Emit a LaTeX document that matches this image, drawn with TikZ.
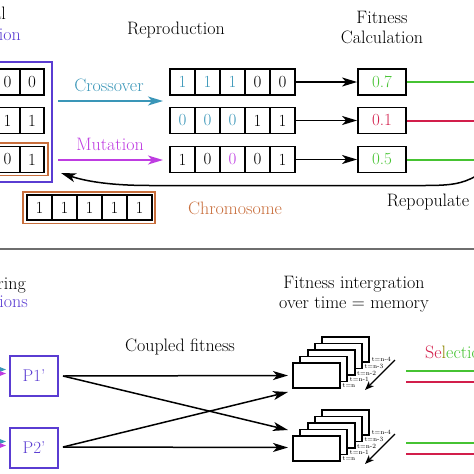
\documentclass[tikz,border=0pt]{standalone}
\usetikzlibrary{arrows.meta}
\definecolor{cteal}{RGB}{58,150,184}
\definecolor{cmag}{RGB}{190,60,225}
\definecolor{cpurp}{RGB}{90,60,210}
\definecolor{corange}{RGB}{200,110,60}
\definecolor{cgreen}{RGB}{70,195,50}
\definecolor{cred}{RGB}{210,30,75}
\definecolor{csep}{RGB}{110,110,110}
\begin{document}
\begin{tikzpicture}[x=1pt,y=-1pt,
  lab/.style={font=\fontsize{18}{20}\selectfont, inner sep=0pt, align=center},
  cell/.style={draw, line width=1.8pt, minimum width=25pt, minimum height=26pt, inner sep=0pt, font=\fontsize{17}{17}\selectfont},
  fitbox/.style={draw, line width=1.8pt, minimum width=48pt, minimum height=26pt, inner sep=0pt, font=\fontsize{17}{17}\selectfont},
  pbox/.style={draw=cpurp, text=cpurp, line width=1.6pt, minimum width=48pt, minimum height=40pt, inner sep=0pt, font=\fontsize{17}{17}\selectfont},
  stackbox/.style={draw, fill=white, line width=1.8pt, minimum width=47pt, minimum height=25pt, inner sep=0pt},
  tlab/.style={font=\fontsize{6.5}{7}\selectfont, inner sep=0pt, anchor=west},
  conn/.style={line width=1.5pt, -{Stealth[length=15pt,width=9pt,inset=4pt]}},
  thinconn/.style={line width=1.3pt, -{Stealth[length=9pt,width=7pt,inset=2.5pt]}}
]
\useasboundingbox (0,0) rectangle (474,474);
\clip (0,0) rectangle (474,474);

% ---------- titles ----------
\node[lab, anchor=east] (tinit) at (6,13) {Initial};
\node[lab, anchor=east, text=cpurp] (tpop) at (21,36) {Population};
\node[lab] (trep) at (176,30) {Reproduction};
\node[lab] (tfit) at (382,28) {Fitness\\Calculation};

% ---------- initial population ----------
\draw[draw=cpurp, line width=1.6pt] (-60,62) rectangle (52,182);
\foreach \r/\y/\da/\db in {1/82/0/0, 2/120.5/1/1, 3/159.5/0/1}{
  \node[cell, minimum width=24pt] (q\r a) at (-17,\y) {0};
  \node[cell, minimum width=24pt] (q\r b) at (7.5,\y) {\da};
  \node[cell, minimum width=24pt] (q\r c) at (32,\y) {\db};
}
\draw[draw=corange, line width=1.5pt] (-58,143) rectangle (48,175.5);

% ---------- reproduction rows ----------
\foreach \i/\d/\c in {1/1/cteal,2/1/cteal,3/1/cteal,4/0/black,5/0/black}
  \node[cell, text=\c] (a\i) at ({157.5+25*\i},82) {\d};
\foreach \i/\d/\c in {1/0/cteal,2/0/cteal,3/0/cteal,4/1/black,5/1/black}
  \node[cell, text=\c] (b\i) at ({157.5+25*\i},120.5) {\d};
\foreach \i/\d/\c in {1/1/black,2/0/black,3/0/cmag,4/0/black,5/1/black}
  \node[cell, text=\c] (c\i) at ({157.5+25*\i},159.5) {\d};

% ---------- fitness boxes ----------
\node[fitbox, text=cgreen] (f1) at (382,82) {0.7};
\node[fitbox, text=cred] (f2) at (382,120.5) {0.1};
\node[fitbox, text=cgreen] (f3) at (382,159.5) {0.5};
\draw[conn] (a5.east) -- (f1.west);
\draw[conn] (b5.east) -- (f2.west);
\draw[conn] (c5.east) -- (f3.west);
\coordinate (g1) at (474,82);
\coordinate (g2) at (474,120.5);
\coordinate (g3) at (474,159.5);
\draw[cgreen, line width=2pt] (f1.east) -- (g1);
\draw[cred, line width=2pt] (f2.east) -- (g2);
\draw[cgreen, line width=2pt] (f3.east) -- (g3);

% ---------- crossover / mutation ----------
\coordinate (cs) at (58,101);
\coordinate (ce) at (163,101);
\draw[cteal, conn] (cs) -- (ce);
\node[lab, text=cteal] (tcross) at (109,85) {Crossover};
\coordinate (ms) at (58,160);
\coordinate (me) at (163,160);
\draw[cmag, conn] (ms) -- (me);
\node[lab, text=cmag] (tmut) at (110,144) {Mutation};

% ---------- repopulate ----------
\coordinate (rs) at (476,176);
\coordinate (re) at (61,173);
\draw[conn] (rs) .. controls (462,184) and (450,185.5) .. (425,185.5)
  -- (150,185.5) .. controls (105,185.5) and (82,180) .. (re);
\node[lab] (trepop) at (428,202) {Repopulate};

% ---------- chromosome ----------
\draw[draw=corange, line width=1.5pt] (23,192) rectangle (155,223.5);
\foreach \i in {1,...,5}
  \node[cell, minimum height=25pt] (h\i) at ({14.5+25*\i},207.7) {1};
\node[lab, text=corange] (tchrom) at (235,208) {Chromosome};

% ---------- separator ----------
\coordinate (sl) at (0,249);
\coordinate (sr) at (474,249);
\draw[csep, line width=1.5pt] (sl) -- (sr);

% ---------- bottom section ----------
\node[lab, anchor=east] (toff) at (26,285) {Offspring};
\node[lab, anchor=east, text=cpurp] (tpops) at (28,303) {Populations};
\node[lab] (tcoup) at (180,347) {Coupled fitness};
\node[lab] (tint) at (354,294) {Fitness intergration\\over time = memory};
\node[lab, anchor=west] (tsel) at (425,352) {\textcolor{cred}{Se}\textcolor{olive}{l}\textcolor{cgreen}{ection}};

\node[pbox] (p1) at (34,376) {P1'};
\node[pbox] (p2) at (34,448) {P2'};

% small incoming arrows (cropped)
\coordinate (i1a) at (-30,369.5); \coordinate (i1b) at (6,369.5);
\coordinate (i2a) at (-30,373.5); \coordinate (i2b) at (6,373.5);
\coordinate (i3a) at (-30,441.5); \coordinate (i3b) at (6,441.5);
\coordinate (i4a) at (-30,445.5); \coordinate (i4b) at (6,445.5);
\draw[cteal, thinconn] (i1a) -- (i1b);
\draw[cmag, thinconn] (i2a) -- (i2b);
\draw[cteal, thinconn] (i3a) -- (i3b);
\draw[cmag, thinconn] (i4a) -- (i4b);

% stacks
\foreach \s/\y in {1/375.5, 2/448.5}{
  \foreach \k in {4,3,2,1,0}{
    \node[stackbox] (s\s k\k) at ({316.5+7.3*\k},{\y-6.5*\k}) {};
  }
  \node[tlab] (l\s a) at ([xshift=1.5pt,yshift=3pt]s\s k0.south east) {t=n};
  \node[tlab] (l\s b) at ([xshift=1.5pt,yshift=3pt]s\s k1.south east) {t=n-1};
  \node[tlab] (l\s c) at ([xshift=1.5pt,yshift=3pt]s\s k2.south east) {t=n-2};
  \node[tlab] (l\s d) at ([xshift=1.5pt,yshift=3pt]s\s k3.south east) {t=n-3};
  \node[tlab] (l\s e) at ([xshift=1.5pt,yshift=4pt]s\s k4.south east) {t=n-4};
}
\coordinate (d1s) at (395,360); \coordinate (d1e) at (365,390);
\coordinate (d2s) at (395,434); \coordinate (d2e) at (365,464);
\draw[thinconn] (d1s) -- (d1e);
\draw[thinconn] (d2s) -- (d2e);

% coupled fitness arrows
\coordinate (p1o) at (63,376);
\coordinate (p2o) at (63,447);
\coordinate (e11) at (288,375.5);
\coordinate (e21) at (288,392);
\coordinate (e12) at (288,430);
\coordinate (e22) at (288,447.5);
\draw[conn] (p1o) -- (e11);
\draw[conn] (p1o) -- (e12);
\draw[conn] (p2o) -- (e21);
\draw[conn] (p2o) -- (e22);

% selection lines
\foreach \s/\y in {1/371, 2/443}{
  \coordinate (gs\s) at (406,\y); \coordinate (ge\s) at (474,\y);
  \coordinate (rs\s) at (406,\y+11); \coordinate (re\s) at (474,\y+11);
  \draw[cgreen, line width=2pt] (gs\s) -- (ge\s);
  \draw[cred, line width=2pt] (rs\s) -- (re\s);
}
\end{tikzpicture}
\end{document}
